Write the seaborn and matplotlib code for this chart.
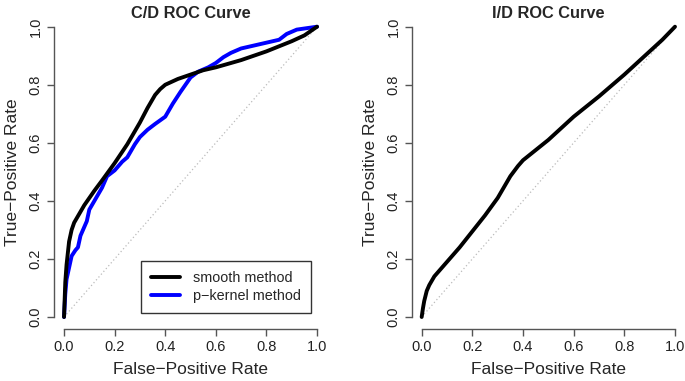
import matplotlib
matplotlib.use("Agg")
import matplotlib.pyplot as plt
import seaborn as sns
import pandas as pd

# C/D ROC curve, smooth method
cd_smooth_fpr = [0.0, 0.005, 0.01, 0.02, 0.03, 0.04, 0.06, 0.08, 0.10, 0.12, 0.15, 0.20, 0.25, 0.30,
                 0.33, 0.36, 0.38, 0.40, 0.45, 0.50, 0.55, 0.60, 0.70, 0.80, 0.90, 0.95, 1.0]
cd_smooth_tpr = [0.0, 0.12, 0.18, 0.26, 0.30, 0.325, 0.355, 0.385, 0.41, 0.435, 0.47, 0.53, 0.595, 0.67,
                 0.72, 0.765, 0.785, 0.80, 0.82, 0.835, 0.85, 0.86, 0.885, 0.915, 0.95, 0.97, 1.0]
# C/D ROC curve, p-kernel method
cd_pk_fpr = [0.0, 0.005, 0.01, 0.02, 0.03, 0.045, 0.055, 0.065, 0.08, 0.09, 0.10, 0.12, 0.15, 0.17,
             0.20, 0.23, 0.25, 0.28, 0.30, 0.33, 0.36, 0.40, 0.43, 0.46, 0.50, 0.53, 0.57, 0.60, 0.63,
             0.66, 0.70, 0.75, 0.80, 0.85, 0.88, 0.92, 0.96, 1.0]
cd_pk_tpr = [0.0, 0.08, 0.13, 0.17, 0.21, 0.23, 0.24, 0.28, 0.31, 0.33, 0.37, 0.40, 0.445, 0.485,
             0.505, 0.535, 0.55, 0.595, 0.62, 0.645, 0.665, 0.69, 0.735, 0.775, 0.825, 0.845, 0.86, 0.875, 0.895,
             0.91, 0.925, 0.935, 0.945, 0.955, 0.975, 0.99, 0.995, 1.0]
# I/D ROC curve
id_fpr = [0.0, 0.005, 0.01, 0.02, 0.03, 0.05, 0.07, 0.10, 0.15, 0.20, 0.25, 0.30, 0.35, 0.38, 0.40,
          0.45, 0.50, 0.60, 0.70, 0.80, 0.90, 0.95, 1.0]
id_tpr = [0.0, 0.03, 0.055, 0.09, 0.11, 0.14, 0.16, 0.19, 0.24, 0.295, 0.35, 0.41, 0.485, 0.52, 0.54,
          0.575, 0.61, 0.69, 0.76, 0.835, 0.915, 0.955, 1.0]

titles = ["C/D ROC Curve", "I/D ROC Curve"]
legend_labels = ["smooth method", "p\u2212kernel method"]
xlabel = "False\u2212Positive Rate"
ylabel = "True\u2212Positive Rate"
ticks = [0.0, 0.2, 0.4, 0.6, 0.8, 1.0]

sns.set_style("white")
plt.rcParams["font.family"] = ["Liberation Sans", "DejaVu Sans"]

fig = plt.figure(figsize=(6.85, 3.81), dpi=100)
ax1 = fig.add_axes([0.0787, 0.1375, 0.3989, 0.8229])
ax2 = fig.add_axes([0.6008, 0.1375, 0.3994, 0.8229])

axis_col = "#555555"

for ax in (ax1, ax2):
    ax.plot([0, 1], [0, 1], linestyle=(0, (1, 2)), color="#bbbbbb", lw=0.9, zorder=1)

df1 = pd.DataFrame({"fpr": cd_smooth_fpr, "tpr": cd_smooth_tpr})
df2 = pd.DataFrame({"fpr": cd_pk_fpr, "tpr": cd_pk_tpr})
df3 = pd.DataFrame({"fpr": id_fpr, "tpr": id_tpr})

sns.lineplot(data=df1, x="fpr", y="tpr", sort=False, color="black", lw=2.8, ax=ax1,
             label=legend_labels[0], zorder=3)
sns.lineplot(data=df2, x="fpr", y="tpr", sort=False, color="#0000ff", lw=2.8, ax=ax1,
             label=legend_labels[1], zorder=2)
sns.lineplot(data=df3, x="fpr", y="tpr", sort=False, color="black", lw=2.8, ax=ax2, zorder=3)

for ax, title in zip((ax1, ax2), titles):
    ax.set_xlim(-0.04, 1.04)
    ax.set_ylim(-0.04, 1.04)
    for s in ("top", "right"):
        ax.spines[s].set_visible(False)
    for s in ("left", "bottom"):
        ax.spines[s].set_bounds(0, 1)
        ax.spines[s].set_color(axis_col)
        ax.spines[s].set_linewidth(1.0)
    ax.set_xticks(ticks)
    ax.set_yticks(ticks)
    ax.set_xticklabels([f"{t:.1f}" for t in ticks], fontsize=10.5)
    ax.set_yticklabels([f"{t:.1f}" for t in ticks], fontsize=10.5, rotation=90, va="center")
    ax.tick_params(axis="both", direction="out", length=5, width=1.0, color=axis_col,
                   bottom=True, left=True, pad=3, labelcolor="#222222")
    ax.set_xlabel(xlabel, fontsize=12.5, labelpad=6)
    ax.set_ylabel(ylabel, fontsize=12.5, labelpad=6)
    ax.text(0.5, 1.005, title, transform=ax.transAxes, ha="center", va="center",
            fontsize=11.8, fontweight="bold")
    ax.patch.set_alpha(0)

leg = ax1.legend(loc="lower right", bbox_to_anchor=(0.955, 0.035), fontsize=10.4,
                 frameon=True, fancybox=False, edgecolor="black", handlelength=2.0,
                 borderpad=0.7, labelspacing=0.3, handletextpad=0.9, borderaxespad=0.3)
leg.get_frame().set_linewidth(1.0)

fig.savefig("out.png", dpi=100)
